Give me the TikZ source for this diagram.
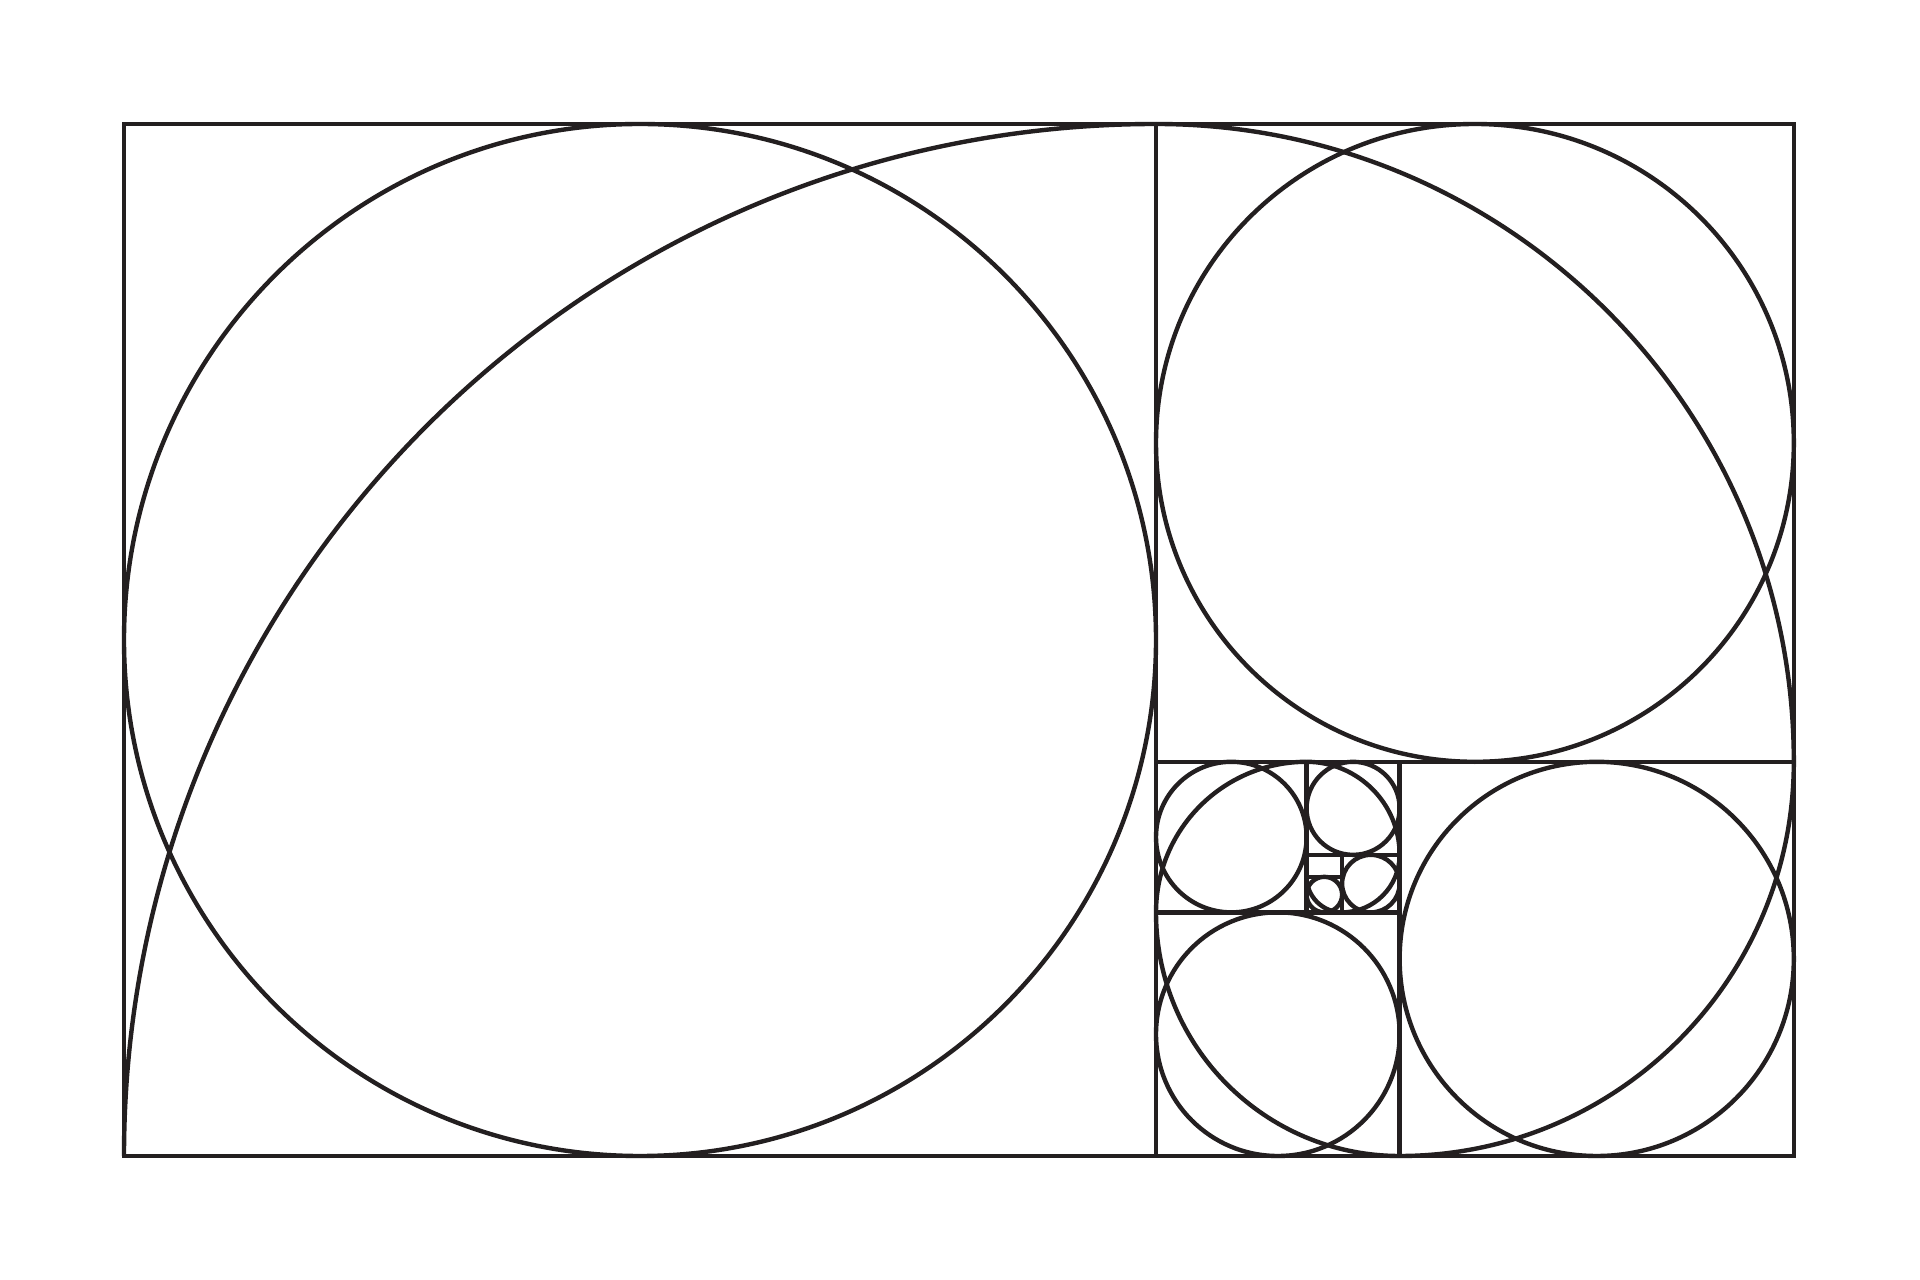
\documentclass[tikz,border=0pt]{standalone}
\definecolor{ink}{HTML}{231F20}
\begin{document}
\begin{tikzpicture}[x=1pt,y=1pt,every path/.style={draw=ink,line width=4.4pt}]
\useasboundingbox[draw=none] (0,0) rectangle (1920,1280);
\pgfmathsetmacro\gA{1032}
\pgfmathsetmacro\gB{\gA/1.6180340}
\pgfmathsetmacro\gC{\gB/1.6180340}
\pgfmathsetmacro\gD{\gC/1.6180340}
\pgfmathsetmacro\gE{\gD/1.6180340}
\pgfmathsetmacro\gF{\gE/1.6180340}
\pgfmathsetmacro\gG{\gF/1.6180340}
\pgfmathsetmacro\gH{\gG/1.6180340}
\newcommand\gsq[3]{%
  \draw (#1,#2) rectangle ++(#3,#3);
  \draw ({#1+0.5*#3},{#2+0.5*#3}) circle[radius={0.5pt*#3}];}
\begin{scope}[shift={(124,124)}]
  % squares with inscribed circles
  \gsq{0}{0}{\gA}
  \gsq{\gA}{\gC}{\gB}
  \gsq{\gA+\gD}{0}{\gC}
  \gsq{\gA}{0}{\gD}
  \gsq{\gA}{\gD}{\gE}
  \gsq{\gA+\gE}{\gC-\gF}{\gF}
  \gsq{\gA+\gD-\gG}{\gD}{\gG}
  \gsq{\gA+\gE}{\gD}{\gH}
  % spiral arcs
  \draw (0,0) arc[start angle=180,end angle=90,radius={1pt*\gA}];
  \draw (\gA,\gA) arc[start angle=90,end angle=0,radius={1pt*\gB}];
  \draw ({\gA+\gB},\gC) arc[start angle=0,end angle=-90,radius={1pt*\gC}];
  \draw ({\gA+\gD},0) arc[start angle=-90,end angle=-180,radius={1pt*\gD}];
  \draw (\gA,\gD) arc[start angle=180,end angle=90,radius={1pt*\gE}];
  \draw ({\gA+\gE},\gC) arc[start angle=90,end angle=0,radius={1pt*\gF}];
  \draw ({\gA+\gD},{\gC-\gF}) arc[start angle=0,end angle=-90,radius={1pt*\gG}];
  \draw ({\gA+\gD-\gG},\gD) arc[start angle=-90,end angle=-180,radius={1pt*\gH}];
\end{scope}
\end{tikzpicture}
\end{document}
